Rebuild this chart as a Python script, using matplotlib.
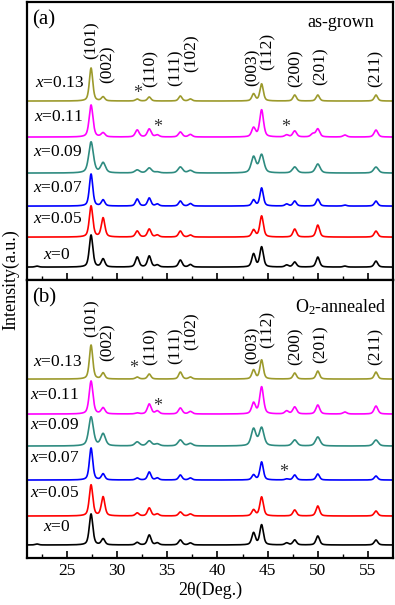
"""XRD patterns of the x-series films, as-grown (a) and O2-annealed (b).

Each pattern is rebuilt from a peak table (position, height) read off the
figure; the profile of every reflection is a pseudo-Voigt of fixed width.
"""

import matplotlib.pyplot as plt
import numpy as np

plt.rcParams["font.family"] = ["Liberation Serif", "DejaVu Serif"]
plt.rcParams["mathtext.fontset"] = "custom"
plt.rcParams["mathtext.rm"] = "Liberation Serif"
plt.rcParams["mathtext.it"] = "Liberation Serif:italic"

# ---- data ----------------------------------------------------------------
SAMPLES = ["0", "0.05", "0.07", "0.09", "0.11", "0.13"]
PEAK_POS = [22.0, 27.4, 28.6, 32.0, 33.2, 34.0, 36.3, 37.3,
            43.6, 44.4, 46.9, 47.7, 49.5, 50.0, 52.7, 55.8]

# peak heights (a.u.) per sample, in PEAK_POS order
HEIGHTS_ASGROWN = [
    [1, 32, 8, 10, 11, 2, 7, 2.5, 13, 20, 2, 5, 0, 10, 1, 6],
    [0, 31, 19, 6, 8, 2, 6, 2, 7, 21, 0, 8, 0, 12, 0, 6],
    [0, 32, 6, 7, 8, 2, 5, 2.5, 6, 18, 2, 5, 0, 7, 1, 5],
    [0, 31, 10, 3, 5, 1, 6, 2.5, 16, 18, 0, 6, 0, 9, 0, 6],
    [0, 32, 4, 7, 8, 2, 5, 2.5, 9, 27, 2, 6, 3, 8, 2, 7],
    [0, 33, 4, 2, 4, 0, 5, 2, 7, 17, 0, 6, 0, 6, 0, 6],
]
HEIGHTS_ANNEALED = [
    [1, 31, 6, 2.5, 10, 2, 5, 2, 12, 20, 2, 5, 0, 9, 0, 5],
    [0, 31, 19, 3, 8, 2, 4, 2, 6, 19, 0, 6, 0, 10, 0, 5],
    [0, 32, 6, 2, 8, 2, 5, 2, 5, 18, 1, 5, 0, 6, 0, 4],
    [0, 29, 12, 4, 5, 2, 6, 2.5, 17, 18, 0, 6, 0, 9, 0, 6],
    [0, 33, 6, 1, 10, 3, 6, 2.5, 11, 27, 3, 7, 0, 9, 2, 8],
    [0, 34, 6, 2, 5, 0, 7, 2, 9, 19, 0, 6, 0, 8, 0, 7],
]
# peak FWHM (deg) per sample
FWHM = [0.42, 0.42, 0.4, 0.55, 0.45, 0.4]

HKL_LABELS = ["(101)", "(002)", "(110)", "(111)", "(102)",
              "(003)", "(112)", "(200)", "(201)", "(211)"]
HKL_POS = [27.5, 29.1, 33.3, 35.8, 37.4, 43.5, 45.0, 47.8, 50.3, 55.8]

# impurity marks: (panel, 2theta, y)
STARS = [(0, 32.0, 187), (0, 34.0, 153), (0, 46.8, 153),
         (1, 31.6, 190), (1, 34.0, 152), (1, 46.6, 86)]

# ---- layout / style ---------------------------------------------------------
COLORS = ["black", "#ff0000", "#0000ff", "#2e8b80", "#ff00ff", "#9c9a2c"]
OFFSETS = [[13, 43, 74, 107, 143, 179], [13, 42, 78, 112, 144, 179]]
LABEL_DY = [[12, 18, 18, 21, 20, 18], [18, 23, 22, 21, 19, 17]]
LABEL_X = [[22.6, 21.6, 21.6, 21.6, 21.7, 21.8], [22.6, 21.3, 21.3, 21.3, 21.3, 21.6]]
HKL_BOTTOM = [221, 197, 193, 194, 208, 194, 210, 193, 195, 193]


def profile(tt, heights, fwhm, eta=0.5):
    """Sum of pseudo-Voigt peaks at PEAK_POS with the given heights."""
    y = np.zeros_like(tt)
    hw = fwhm / 2.0
    sig = fwhm / 2.3548
    for pos, h in zip(PEAK_POS, heights):
        d = tt - pos
        lor = hw ** 2 / (d ** 2 + hw ** 2)
        gau = np.exp(-0.5 * (d / sig) ** 2)
        y += h * (eta * lor + (1 - eta) * gau)
    return y


tt = np.linspace(21.0, 57.5, 2400)

fig = plt.figure(figsize=(3.95, 6.05), dpi=100)
ax_top = fig.add_axes([0.068, 0.537, 0.927, 0.4597])
ax_bot = fig.add_axes([0.068, 0.0777, 0.927, 0.4593], sharex=ax_top)

panels = [(ax_top, HEIGHTS_ASGROWN, "(a)", "as-grown"),
          (ax_bot, HEIGHTS_ANNEALED, "(b)", "O$_2$-annealed")]

for p, (ax, table, tag, cond) in enumerate(panels):
    for i, heights in enumerate(table):
        y = OFFSETS[p][i] + profile(tt, heights, FWHM[i])
        ax.plot(tt, y, color=COLORS[i], lw=1.2)
        ax.text(LABEL_X[p][i], OFFSETS[p][i] + LABEL_DY[p][i],
                f"$x$={SAMPLES[i]}", fontsize=12.5, va="center", ha="left")
    for lab, pos, yb in zip(HKL_LABELS, HKL_POS, HKL_BOTTOM):
        ax.text(pos, yb, lab, rotation=90, ha="center", va="bottom",
                fontsize=12.5)
    ax.text(21.5, 260, tag, fontsize=15, va="center", ha="left")
    ax.text(52.3, 258 if p == 0 else 251, cond, fontsize=13,
            va="center", ha="center")

    ax.set_xlim(21.0, 57.5)
    ax.set_ylim(0, 278)
    ax.set_yticks([])
    ax.set_xticks(np.arange(25, 56, 5))
    ax.set_xticks(np.arange(22.5, 57.5, 2.5), minor=True)
    ax.tick_params(axis="x", which="major", direction="in", length=5,
                   width=1.2, labelsize=12.5, top=False)
    ax.tick_params(axis="x", which="minor", direction="in", length=3,
                   width=1.0, top=False)
    for s in ax.spines.values():
        s.set_linewidth(1.6)

for panel, x, y in STARS:
    ax = ax_top if panel == 0 else ax_bot
    ax.text(x, y, "*", fontsize=13, ha="center", va="center", color="#333333")

ax_top.tick_params(axis="x", labelbottom=False)
ax_bot.set_xlabel("2θ(Deg.)", fontsize=13, labelpad=2)
fig.text(0.027, 0.537, "Intensity(a.u.)", rotation=90, fontsize=13,
         ha="center", va="center")

fig.savefig("out.png", dpi=100)
